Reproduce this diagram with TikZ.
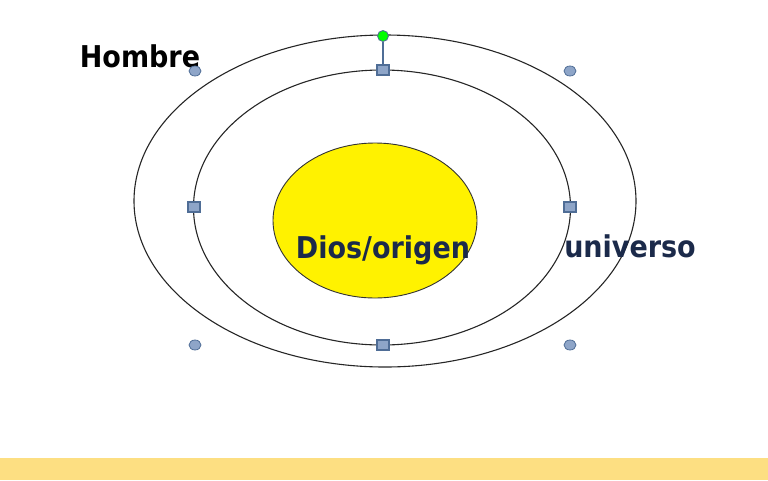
\documentclass[tikz,border=0pt]{standalone}
\usepackage{fontspec}
\usetikzlibrary{shapes.geometric}
\setmainfont{DejaVu Sans}
\newfontfamily\lblfont{DejaVu Sans Condensed}
\definecolor{band}{HTML}{FDDF82}
\definecolor{hfill}{HTML}{8EA5C8}
\definecolor{hdraw}{HTML}{4F6D96}
\definecolor{navy}{HTML}{1B2A4A}
\begin{document}
\begin{tikzpicture}[x=1pt,y=-1pt,
  sq/.style={draw=hdraw,fill=hfill,line width=1.2pt,minimum width=12pt,minimum height=10pt,inner sep=0pt},
  rd/.style={draw=hdraw,fill=hfill,line width=0.8pt,ellipse,minimum width=12pt,minimum height=10pt,inner sep=0pt},
  lbl/.style={font=\lblfont\bfseries\fontsize{30}{30}\selectfont,inner sep=0pt,anchor=base}]
\useasboundingbox (0,0) rectangle (768,480);
\fill[band] (0,458) rectangle (768,480);
\draw[line width=1.1pt,draw=black!85] (385,201) ellipse [x radius=251, y radius=166];
\draw[line width=1.1pt,draw=black!85] (382,207.5) ellipse [x radius=188.5, y radius=137.5];
\draw[fill=yellow,line width=0.9pt,draw=black!80] (375,220.5) ellipse [x radius=102, y radius=77.5];
\node[lbl,text=black] (hombre) at (140,67) {Hombre};
\node[lbl,text=navy] (dios) at (383,258) {Dios/origen};
\node[lbl,text=navy] (univ) at (630,257) {universo};
\node[rd] (tl) at (195,71) {};
\node[rd] (tr) at (570,71) {};
\node[rd] (bl) at (195,345) {};
\node[rd] (br) at (570,345) {};
\node[sq] (t) at (383,70) {};
\node[circle,draw=hdraw,fill=green,line width=0.8pt,minimum size=11pt,inner sep=0pt] (rot) at (383,36) {};
\draw[hdraw,line width=1.5pt] (rot) -- (t);
\node[sq] (l) at (194,207) {};
\node[sq] (r) at (570,207) {};
\node[sq] (b) at (383,345) {};
\end{tikzpicture}
\end{document}
